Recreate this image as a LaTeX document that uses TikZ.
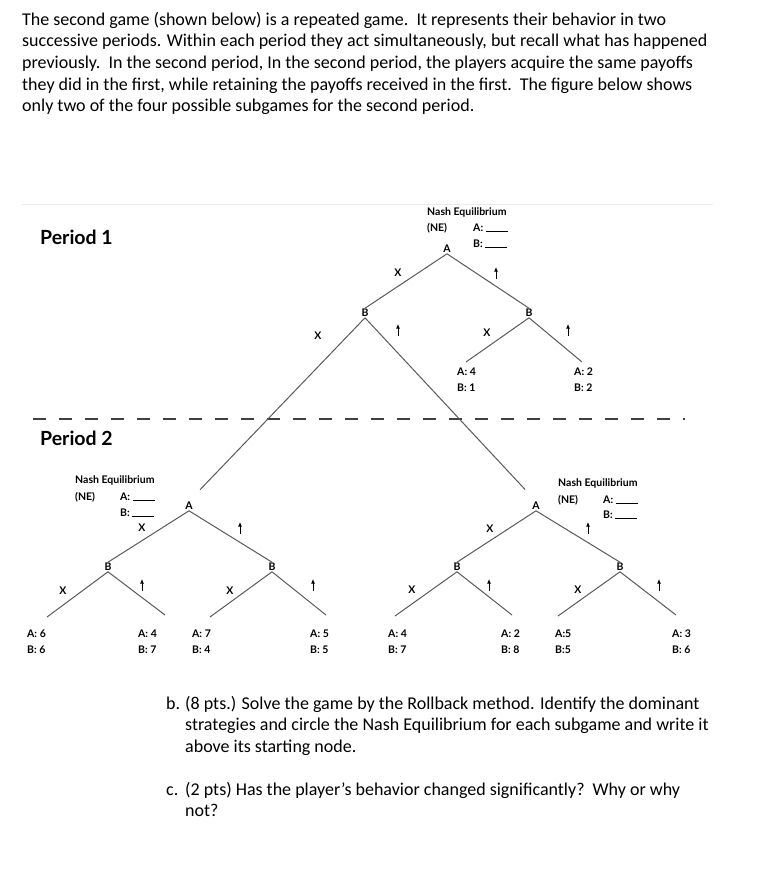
\documentclass[tikz,border=0pt]{standalone}
\usepackage{fontspec}
\setmainfont{Carlito}
\newfontfamily\diagfont{Lato}
\usetikzlibrary{arrows.meta}

\newcommand{\uparr}{\tikz\draw[line width=1pt,-{Latex[length=4.5pt,width=4pt]}] (0pt,0pt) -- (0pt,12pt);}
\newcommand{\blank}{\rule{22pt}{0.6pt}}

\begin{document}
\begin{tikzpicture}[x=1pt,y=-1pt,
    txt/.style={anchor=north west, inner sep=0pt, align=left, font=\fontsize{18}{21.6}\selectfont},
    period/.style={anchor=west, inner sep=0pt, font=\diagfont\bfseries\fontsize{19.5}{22}\selectfont},
    small/.style={anchor=west, inner sep=0pt, font=\diagfont\bfseries\fontsize{10.5}{12}\selectfont},
    pay/.style={anchor=west, inner sep=0pt, align=left, font=\diagfont\bfseries\fontsize{10.5}{16}\selectfont},
    player/.style={inner sep=0.8pt, font=\diagfont\bfseries\fontsize{10.5}{12}\selectfont},
    move/.style={inner sep=0pt, font=\diagfont\bfseries\fontsize{10.5}{12}\selectfont},
    edge/.style={draw=black!65, line width=1pt}]
    \useasboundingbox (0,0) rectangle (770,870);

    \node[txt] (intro) at (22,10) {\strut The second game (shown below) is a repeated game.\ \ It represents their behavior in two\\
      successive periods. Within each period they act simultaneously, but recall what has happened\\
      previously.\ \ In the second period, In the second period, the players acquire the same payoffs\\
      they did in the first, while retaining the payoffs received in the first.\ \ The figure below shows\\
      only two of the four possible subgames for the second period.};

    \draw[black!8, line width=1pt] (22,204) -- (713,204);
    \draw[black!75, line width=1.3pt, dash pattern=on 13pt off 13pt] (33,419) -- (685,419);
    \node[period] (per1) at (40,237) {Period 1};
    \node[period] (per2) at (40,438) {Period 2};

    % period 1
    \node[player] (tA) at (447,249) {A};
    \node[player] (tBl) at (365,313) {B};
    \node[player] (tBr) at (529,313) {B};
    \coordinate (tl1) at (466,362);
    \coordinate (tl2) at (582,362);
    \draw[edge] (tA.south) -- (tBl.north);
    \draw[edge] (tA.south) -- (tBr.north);
    \draw[edge] (tBr.south) -- (tl1);
    \draw[edge] (tBr.south) -- (tl2);
    \node[move] (tmx) at (398,273) {X};
    \node[move] (tmu) at (496,273) {\uparr};
    \node[move] (tmx2) at (318,336) {X};
    \node[move] (tmu2) at (398,330) {\uparr};
    \node[move] (tmx3) at (487,333) {X};
    \node[move] (tmu3) at (568,330) {\uparr};
    \node[pay] (tp1) at (457,380) {A: 4\\B: 1};
    \node[pay] (tp2) at (574,380) {A: 2\\B: 2};
    \node[small] (tne) at (427,212) {Nash Equilibrium};
    \node[small] (tne2) at (427,228) {(NE)};
    \node[small] (tnea) at (473,228) {A: \blank};
    \node[small] (tneb) at (473,244) {B: \blank};

    % period 2, left subgame
    \node[player] (lA) at (189,506) {A};
    \node[player] (lBl) at (108,567) {B};
    \node[player] (lBr) at (272,567) {B};
    \coordinate (ll1) at (47,617);
    \coordinate (ll2) at (165,615);
    \coordinate (ll3) at (210,617);
    \coordinate (ll4) at (326,615);
    \draw[edge, shorten >=16pt] (tBl.south) -- (lA.north);
    \draw[edge] (lA.south) -- (lBl.north);
    \draw[edge] (lA.south) -- (lBr.north);
    \draw[edge] (lBl.south) -- (ll1);
    \draw[edge] (lBl.south) -- (ll2);
    \draw[edge] (lBr.south) -- (ll3);
    \draw[edge] (lBr.south) -- (ll4);
    \node[move] (lmx) at (142,528) {X};
    \node[move] (lmu) at (240,528) {\uparr};
    \node[move] (lmx2) at (63,591) {X};
    \node[move] (lmu2) at (142,585) {\uparr};
    \node[move] (lmx3) at (230,591) {X};
    \node[move] (lmu3) at (313,585) {\uparr};
    \node[pay] (lp1) at (27,642) {A: 6\\B: 6};
    \node[pay] (lp2) at (138,642) {A: 4\\B: 7};
    \node[pay] (lp3) at (192,642) {A: 7\\B: 4};
    \node[pay] (lp4) at (310,642) {A: 5\\B: 5};
    \node[small] (lne) at (75,480) {Nash Equilibrium};
    \node[small] (lne2) at (75,497) {(NE)};
    \node[small] (lnea) at (120,497) {A: \blank};
    \node[small] (lneb) at (120,513) {B: \blank};

    % period 2, right subgame
    \node[player] (rA) at (536,506) {A};
    \node[player] (rBl) at (457,567) {B};
    \node[player] (rBr) at (620,567) {B};
    \coordinate (rl1) at (395,616);
    \coordinate (rl2) at (512,615);
    \coordinate (rl3) at (558,616);
    \coordinate (rl4) at (676,615);
    \draw[edge, shorten >=16pt] (tBl.south) -- (rA.north);
    \draw[edge] (rA.south) -- (rBl.north);
    \draw[edge] (rA.south) -- (rBr.north);
    \draw[edge] (rBl.south) -- (rl1);
    \draw[edge] (rBl.south) -- (rl2);
    \draw[edge] (rBr.south) -- (rl3);
    \draw[edge] (rBr.south) -- (rl4);
    \node[move] (rmx) at (490,529) {X};
    \node[move] (rmu) at (588,528) {\uparr};
    \node[move] (rmx2) at (412,590) {X};
    \node[move] (rmu2) at (489,585) {\uparr};
    \node[move] (rmx3) at (578,590) {X};
    \node[move] (rmu3) at (659,585) {\uparr};
    \node[pay] (rp1) at (388,642) {A: 4\\B: 7};
    \node[pay] (rp2) at (501,642) {A: 2\\B: 8};
    \node[pay] (rp3) at (555,642) {A:5\\B:5};
    \node[pay] (rp4) at (672,642) {A: 3\\B: 6};
    \node[small] (rne) at (558,483) {Nash Equilibrium};
    \node[small] (rne2) at (558,500) {(NE)};
    \node[small] (rnea) at (603,500) {A: \blank};
    \node[small] (rneb) at (603,515) {B: \blank};

    % questions
    \node[txt] (qb) at (166,694) {\strut b.};
    \node[txt] (qbt) at (185,694) {\strut (8 pts.) Solve the game by the Rollback method. Identify the dominant\\
      strategies and circle the Nash Equilibrium for each subgame and write it\\
      above its starting node.};
    \node[txt] (qc) at (166,780) {\strut c.};
    \node[txt] (qct) at (185,780) {\strut (2 pts) Has the player's behavior changed significantly?\ \ Why or why\\
      not?};
  \end{tikzpicture}
\end{document}
